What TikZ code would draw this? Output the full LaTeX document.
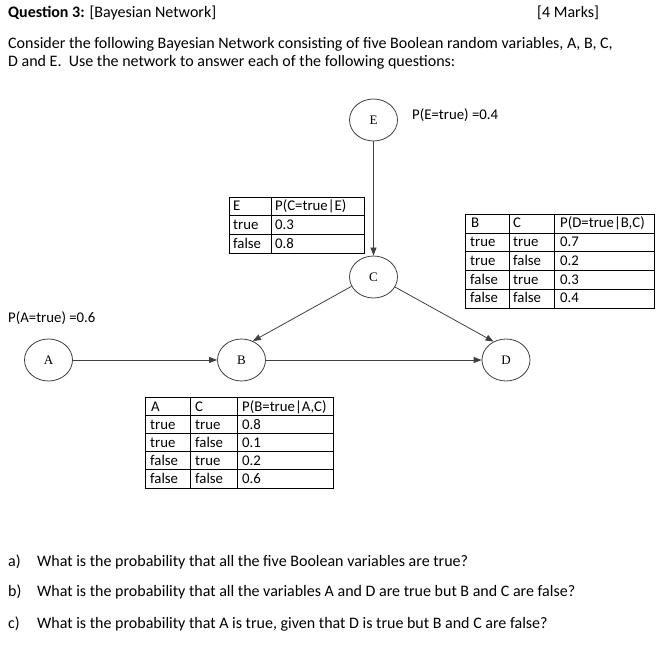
\documentclass[tikz,border=0pt]{standalone}
\usepackage{fontspec}
\setmainfont{Carlito}
\newfontfamily\nodefont{Liberation Serif}
\usetikzlibrary{arrows.meta,shapes.geometric}
\begin{document}
\begin{tikzpicture}[x=1pt,y=-1pt,
  txt/.style={anchor=base west,inner sep=0pt,font=\fontsize{14.8}{17}\selectfont},
  body/.style={anchor=base west,inner sep=0pt,font=\fontsize{16}{19}\selectfont},
  var/.style={draw=black!75,ellipse,minimum width=48pt,minimum height=42pt,inner sep=0pt,line width=0.8pt,font=\nodefont\fontsize{13}{15}\selectfont},
  conn/.style={draw=black!75,line width=0.8pt,-{Triangle[length=8pt,width=6pt]}},
  gridline/.style={draw=black,line width=0.8pt}]
\useasboundingbox (0,0) rectangle (664,647);

% header text
\node[body] (title) at (8,18) {\textbf{Question 3:} [Bayesian Network]};
\node[body] (marks) at (537,18) {[4 Marks]};
\node[body] (intro1) at (8,48.5) {Consider the following Bayesian Network consisting of five Boolean random variables, A, B, C,};
\node[body] (intro2) at (8,66.5) {D and E.\ \ Use the network to answer each of the following questions:};

% nodes
\node[var] (E) at (373.5,120) {E};
\node[var] (C) at (373.5,277) {C};
\node[var] (A) at (48.5,360) {A};
\node[var] (B) at (241.5,360) {B};
\node[var] (D) at (506,360) {D};

\node[txt] (pE) at (412,120) {P(E=true) =0.4};
\node[txt] (pA) at (8,322) {P(A=true) =0.6};

% connectors
\draw[conn] (E) -- (C);
\draw[conn] (A) -- (B);
\draw[conn] (B) -- (D);
\draw[conn] (C.203) -- (B.59);
\draw[conn] (C.335) -- (D.124);

% table C
\draw[gridline] (229,197) rectangle (364,253);
\draw[gridline] (229,215) -- (364,215) (229,234) -- (364,234) (271,197) -- (271,253);
\node[txt] (tc11) at (233,211) {E};
\node[txt] (tc12) at (275,211) {P(C=true|E)};
\node[txt] (tc21) at (233,229.5) {true};
\node[txt] (tc22) at (275,229.5) {0.3};
\node[txt] (tc31) at (233,248) {false};
\node[txt] (tc32) at (275,248) {0.8};

% table D
\draw[gridline] (465,214) rectangle (654,308);
\foreach \yy in {233,251.7,270.5,289.2} \draw[gridline] (465,\yy) -- (654,\yy);
\draw[gridline] (509,214) -- (509,308) (554,214) -- (554,308);
\node[txt] (td11) at (471,228) {B};
\node[txt] (td12) at (513,228) {C};
\node[txt] (td13) at (560,228) {P(D=true|B,C)};
\node[txt] (td21) at (470,246.5) {true};
\node[txt] (td22) at (513,246.5) {true};
\node[txt] (td23) at (560,246.5) {0.7};
\node[txt] (td31) at (470,265.2) {true};
\node[txt] (td32) at (513,265.2) {false};
\node[txt] (td33) at (560,265.2) {0.2};
\node[txt] (td41) at (470,284) {false};
\node[txt] (td42) at (513,284) {true};
\node[txt] (td43) at (560,284) {0.3};
\node[txt] (td51) at (470,302.7) {false};
\node[txt] (td52) at (513,302.7) {false};
\node[txt] (td53) at (560,302.7) {0.4};

% table B
\draw[gridline] (145,397) rectangle (333,488);
\foreach \yy in {415.2,433.4,451.6,469.8} \draw[gridline] (145,\yy) -- (333,\yy);
\draw[gridline] (190,397) -- (190,488) (237,397) -- (237,488);
\node[txt] (tb11) at (151,411) {A};
\node[txt] (tb12) at (195,411) {C};
\node[txt] (tb13) at (242,411) {P(B=true|A,C)};
\node[txt] (tb21) at (150,429) {true};
\node[txt] (tb22) at (195,429) {true};
\node[txt] (tb23) at (242,429) {0.8};
\node[txt] (tb31) at (150,447.2) {true};
\node[txt] (tb32) at (195,447.2) {false};
\node[txt] (tb33) at (242,447.2) {0.1};
\node[txt] (tb41) at (150,465.4) {false};
\node[txt] (tb42) at (195,465.4) {true};
\node[txt] (tb43) at (242,465.4) {0.2};
\node[txt] (tb51) at (150,483.6) {false};
\node[txt] (tb52) at (195,483.6) {false};
\node[txt] (tb53) at (242,483.6) {0.6};

% questions
\node[body] (qa) at (8,566) {a)};
\node[body] (qat) at (37,566) {What is the probability that all the five Boolean variables are true?};
\node[body] (qb) at (8,596) {b)};
\node[body] (qbt) at (37,596) {What is the probability that all the variables A and D are true but B and C are false?};
\node[body] (qc) at (8,628) {c)};
\node[body] (qct) at (37,628) {What is the probability that A is true, given that D is true but B and C are false?};
\end{tikzpicture}
\end{document}
